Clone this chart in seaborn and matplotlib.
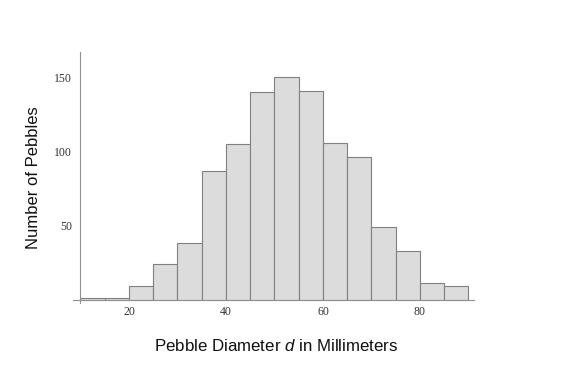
import numpy as np
import pandas as pd
import seaborn as sns
import matplotlib
matplotlib.use("Agg")
import matplotlib.pyplot as plt
from matplotlib.ticker import MultipleLocator

bin_edges = [10, 15, 20, 25, 30, 35, 40, 45, 50, 55, 60, 65, 70, 75, 80, 85, 90]
counts = [1, 1, 9, 24, 38, 87, 105, 140, 150, 141, 106, 96, 49, 33, 11, 9]
x_ticks = [20, 40, 60, 80]
y_ticks = [50, 100, 150]
x_label = "Pebble Diameter $\\mathit{d}$ in Millimeters"
y_label = "Number of Pebbles"

centers = [(a + b) / 2 for a, b in zip(bin_edges[:-1], bin_edges[1:])]
df = pd.DataFrame({"diameter": centers, "count": counts})

sns.set_style("white")
plt.rcParams["font.family"] = ["Liberation Sans", "DejaVu Sans"]
plt.rcParams["mathtext.fontset"] = "custom"
plt.rcParams["mathtext.it"] = "Liberation Sans:italic"
plt.rcParams["mathtext.rm"] = "Liberation Sans"

fig = plt.figure(figsize=(5.71, 3.86), dpi=100)
ax = fig.add_axes([0.1273, 0.2145, 0.7033, 0.650])

sns.histplot(data=df, x="diameter", weights="count", bins=bin_edges, ax=ax,
             color="#dcdcdc", edgecolor="#808080", linewidth=0.8, alpha=1.0)

ax.set_xlim(8.4, 91.2)
ax.set_ylim(-2.5, 167)
ax.spines["top"].set_visible(False)
ax.spines["right"].set_visible(False)
ax.spines["left"].set_position(("data", 10))
ax.spines["bottom"].set_position(("data", 0))
for s in ("left", "bottom"):
    ax.spines[s].set_color("#909090")
    ax.spines[s].set_linewidth(0.8)

ax.set_xticks(x_ticks)
ax.set_yticks(y_ticks)
ax.xaxis.set_minor_locator(MultipleLocator(5))
ax.yaxis.set_minor_locator(MultipleLocator(10))
ax.tick_params(axis="both", which="major", direction="in", length=4, width=0.7,
               color="#909090", labelsize=8.5, labelcolor="#333333")
ax.tick_params(axis="x", which="major", pad=5)
ax.tick_params(axis="y", which="major", pad=6)
ax.tick_params(axis="both", which="minor", direction="in", length=2, width=0.5,
               color="#b0b0b0")
for lab in ax.get_xticklabels() + ax.get_yticklabels():
    lab.set_fontfamily("Liberation Serif")

ax.set_xlabel("")
ax.set_ylabel("")
fig.text(0.483, 0.104, x_label, ha="center", va="center", fontsize=12.2, color="#111111")
fig.text(0.058, 0.539, y_label, ha="center", va="center", rotation=90, fontsize=12, color="#111111")

fig.savefig("out.png", dpi=100)
